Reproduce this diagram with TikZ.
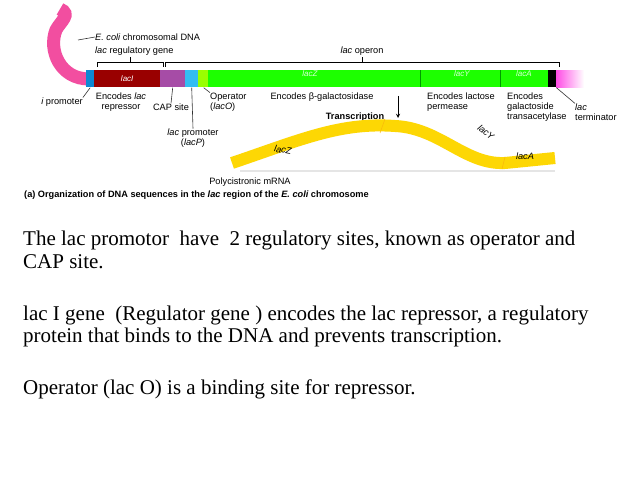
\documentclass[tikz,border=0pt]{standalone}
\usepackage{fontspec}
\setmainfont{Liberation Serif}
\newfontfamily\lsans{Liberation Sans}
\begin{document}
\begin{tikzpicture}[x=1pt,y=-1pt,
  lab/.style={font=\lsans\fontsize{9.2}{10}\selectfont,inner sep=0pt,align=center},
  seg/.style={inner sep=0pt,minimum height=17pt,anchor=west},
  lead/.style={draw=black!80,line width=0.6pt},
  body/.style={font=\fontsize{21}{24}\selectfont,anchor=west,inner sep=0pt}]
\useasboundingbox (0,0) rectangle (638,478);
\fill[white] (0,0) rectangle (638,478);
% pink chromosome tail
\draw[line width=13pt,magenta!60!pink] (60,9) .. controls (72,14) and (60,22) .. (56,30) .. controls (48,50) and (60,79) .. (89,79);
\shade[left color=magenta!60!pink,right color=white] (556,70.5) rectangle (584,87.5);
% DNA segments
\node[seg,fill=cyan!70!blue,minimum width=8pt] (ip) at (86,79) {};
\node[seg,fill=red!60!black,minimum width=66pt,text=white] (laci) at (94,79) {\lsans\fontsize{8}{9}\selectfont\itshape lacI};
\node[seg,fill=violet!70,minimum width=25pt] (cap) at (160,79) {};
\node[seg,fill=cyan!80,minimum width=13pt] (lp) at (185,79) {};
\node[seg,fill=lime!80!green,minimum width=11pt] (lo) at (198,79) {};
\node[seg,fill=green!85!lime,minimum width=340pt] (z) at (208,79) {};
\node[seg,fill=black,minimum width=8pt] (term) at (548,79) {};
\draw[green!60!black,line width=0.4pt] (420,70.5) -- (420,87.5) (500,70.5) -- (500,87.5);
\node[text=white!85!green,font=\lsans\fontsize{8}{9}\selectfont\itshape] (zl) at (310,74) {lacZ};
\node[text=white!85!green,font=\lsans\fontsize{8}{9}\selectfont\itshape] (yl) at (462,74) {lacY};
\node[text=white!85!green,font=\lsans\fontsize{8}{9}\selectfont\itshape] (al) at (524,74) {lacA};
% brackets
\draw[line width=0.6pt] (97,67) -- (97,62) -- (163,62) -- (163,67) (130,62) -- (130,57);
\draw[line width=0.6pt] (165,67) -- (165,62) -- (559,62) -- (559,67) (362,62) -- (362,57);
\node[lab,anchor=west] (ec) at (95,37) {\itshape E. coli\upshape\ chromosomal DNA};
\coordinate (ecp) at (78,40);
\draw[lead] (ec.west) -- (ecp);
\node[lab,anchor=west] (rg) at (95,51) {\itshape lac\upshape\ regulatory gene};
\node[lab] (op) at (362,51) {\itshape lac\upshape\ operon};
% bottom labels
\node[lab] (ipl) at (62,102) {\itshape i\upshape\ promoter};
\draw[lead] (ipl.north east) -- (ip.south);
\node[lab] (rep) at (121,102) {Encodes \itshape lac\upshape\\repressor};
\node[lab] (capl) at (171,107) {CAP site};
\draw[lead] (capl.north) -- (cap.south);
\node[lab,align=left,anchor=west] (ol) at (210,102) {Operator\\(\itshape lacO\upshape)};
\draw[lead] (ol.north west) -- (lo.south);
\node[lab] (pl) at (193,138) {\itshape lac\upshape\ promoter\\(\itshape lacP\upshape)};
\draw[lead] (pl.north) -- (lp.south);
\node[lab] (zd) at (322,97) {Encodes β-galactosidase};
\node[lab,align=left,anchor=west] (yd) at (427,102) {Encodes lactose\\permease};
\node[lab,align=left,anchor=west] (ad) at (507,107) {Encodes\\galactoside\\transacetylase};
\node[lab,align=left,anchor=west] (tl) at (575,112) {\itshape lac\upshape\\terminator};
\draw[lead] (tl.north west) -- (term.south east);
\coordinate (ta) at (398,96);
\coordinate (tb) at (398,118);
\draw[-stealth,line width=0.9pt] (ta) -- (tb);
\node[lab,font=\lsans\bfseries\fontsize{9.2}{10}\selectfont] (tr) at (355,117) {Transcription};
% mRNA
\fill[black!10] (240,170) rectangle (555,172);
\draw[line width=12pt,yellow!75!orange] (232,163) .. controls (300,140) and (340,122) .. (395,126) .. controls (440,128) and (465,165) .. (505,163) -- (555,158);
\draw[yellow!45!orange,line width=0.5pt] (385,119) -- (380,133) (505,157) -- (502,169);
\node[lab,rotate=-10] (mz) at (283,150) {\itshape lacZ};
\node[lab,rotate=-38] (my) at (486,132) {\itshape lacY};
\node[lab] (ma) at (525,156) {\itshape lacA};
\node[lab] (pm) at (250,182) {Polycistronic mRNA};
\node[lab,anchor=west,font=\lsans\bfseries\fontsize{9.2}{10}\selectfont] (cap2) at (24,195) {(a) Organization of DNA sequences in the \itshape lac\upshape\ region of the \itshape E. coli\upshape\ chromosome};
% body text
\node[body] (t1) at (23,240) {The lac promotor\ \ have\ \ 2 regulatory sites, known as operator and};
\node[body] (t2) at (23,262) {CAP site.};
\node[body] (t3) at (23,315) {lac I gene\ \ (Regulator gene ) encodes the lac repressor, a regulatory};
\node[body] (t4) at (23,337) {protein that binds to the DNA and prevents transcription.};
\node[body] (t5) at (23,389) {Operator (lac O) is a binding site for repressor.};
\end{tikzpicture}
\end{document}
